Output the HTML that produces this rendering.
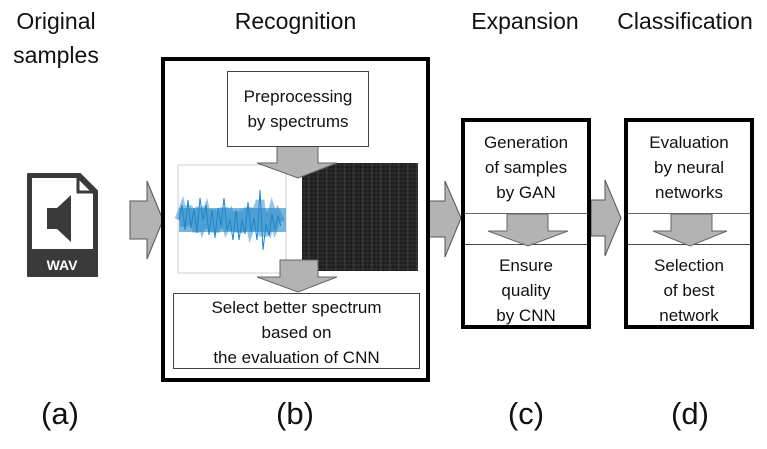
<!DOCTYPE html><html><head><style>
body{margin:0;width:767px;height:449px;background:#fff;position:relative;overflow:hidden;font-family:"Liberation Sans",sans-serif;color:#111}
.t{position:absolute;text-align:center;white-space:nowrap}
.h{font-size:23px;line-height:34px}
.b{font-size:17px;line-height:25px}
.l{font-size:31px}
.box{position:absolute;background:#fff;box-sizing:border-box}
</style></head><body>
<div class="t h" style="left:0;width:112px;top:4px">Original<br>samples</div>
<div class="t h" style="left:163px;width:265px;top:4px">Recognition</div>
<div class="t h" style="left:455px;width:140px;top:4px">Expansion</div>
<div class="t h" style="left:605px;width:160px;top:4px">Classification</div>
<div class="t l" style="left:20px;width:80px;top:396px">(a)</div>
<div class="t l" style="left:255px;width:80px;top:396px">(b)</div>
<div class="t l" style="left:486px;width:80px;top:396px">(c)</div>
<div class="t l" style="left:650px;width:80px;top:396px">(d)</div>

<svg width="767" height="449" style="position:absolute;left:0;top:0">
<path d="M28,174 H80 L97,191 V276 H28 Z" fill="#3a3a3a" stroke="#3a3a3a" stroke-width="2" stroke-linejoin="round"/>
<path d="M32,178 H77 L93,194 V249 H32 Z" fill="#fff"/>
<path d="M78,176 V192 H95" fill="none" stroke="#3a3a3a" stroke-width="3"/>
<path d="M47,208 H57 L71,195 V242 L57,229 H47 Z" fill="#3a3a3a"/>
<text x="62" y="270" font-family="Liberation Sans" font-weight="bold" font-size="14" fill="#fff" text-anchor="middle">WAV</text>
<g fill="#b3b3b3" stroke="#555" stroke-width="1">
<path d="M130,201 H147 V181 L163,220 L147,259 V239 H130 Z"/>
<path d="M429,201 H445 V181 L461,218 L445,257 V237 H429 Z"/>
<path d="M591,200 H605 V180 L621,218 L605,256 V236 H591 Z"/>
</g>
<rect x="163" y="59" width="265" height="321" fill="none" stroke="#000" stroke-width="4"/>
</svg>

<svg width="130" height="125" style="position:absolute;left:167px;top:163px">
<rect x="11" y="2" width="108" height="108" fill="#fff" stroke="#bbb" stroke-width="0.7"/>
<path d="M12,57 l3,-8 3,14 3,-20 3,18 3,-12 3,20 3,-25 3,15 3,-8 3,14 3,-18 3,22 3,-14 3,10 3,-20 3,16 3,-6 3,12 3,-18 3,20 3,-10 3,8 3,-22 3,18 3,-8 3,12 3,-30 3,36 3,-16 3,6 3,-12 3,10 3,-8 3,6" fill="none" stroke="#4aa0d5" stroke-width="9" opacity="0.6"/>
<path d="M12,57 l3,-15 3,25 3,-30 3,28 3,-20 3,25 3,-35 3,22 3,-15 3,30 3,-25 3,28 3,-30 3,18 3,-28 3,32 3,-10 3,20 3,-30 3,30 3,-20 3,14 3,-32 3,30 3,-14 3,22 3,-50 3,60 3,-26 3,12 3,-22 3,16 3,-14 3,10" fill="none" stroke="#1f86c8" stroke-width="1"/>
<rect x="12" y="45" width="107" height="24" fill="#1f86c8" opacity="0.6"/>
</svg>
<div style="position:absolute;left:302px;top:163px;width:116px;height:108px;background:repeating-linear-gradient(90deg,#1b1b1b 0,#2a2a2a 3px,#151515 5px,#3a3a3a 6px,#1e1e1e 9px)"></div>
<div style="position:absolute;left:302px;top:163px;width:116px;height:108px;background:repeating-linear-gradient(0deg,rgba(0,0,0,.2) 0,rgba(255,255,255,.05) 2px,rgba(0,0,0,.15) 4px)"></div>

<svg width="767" height="449" style="position:absolute;left:0;top:0">
<g fill="#b3b3b3" stroke="#666" stroke-width="1">
<path d="M277,146 H318 V163 H337 L298,178 L257,163 H277 Z"/>
<path d="M280,260 H318 V277 H337 L298,292 L257,277 H280 Z"/>
</g>
</svg>

<div class="box" style="left:227px;top:71px;width:142px;height:76px;border:1px solid #444"></div>
<div class="t b" style="left:227px;width:142px;top:84px">Preprocessing<br>by spectrums</div>
<div class="box" style="left:173px;top:293px;width:247px;height:76px;border:1px solid #444"></div>
<div class="t b" style="left:173px;width:247px;top:295px">Select better spectrum<br>based on<br>the evaluation of CNN</div>

<div class="box" style="left:461px;top:118px;width:130px;height:211px;border:4px solid #000"></div>
<div style="position:absolute;left:465px;top:213px;width:122px;height:30px;border-top:1px solid #666;border-bottom:1px solid #444"></div>
<div class="t b" style="left:461px;width:130px;top:130px">Generation<br>of samples<br>by GAN</div>
<div class="t b" style="left:461px;width:130px;top:253px">Ensure<br>quality<br>by CNN</div>
<div class="box" style="left:624px;top:118px;width:130px;height:211px;border:4px solid #000"></div>
<div style="position:absolute;left:628px;top:213px;width:122px;height:30px;border-top:1px solid #666;border-bottom:1px solid #444"></div>
<div class="t b" style="left:624px;width:130px;top:130px">Evaluation<br>by neural<br>networks</div>
<div class="t b" style="left:624px;width:130px;top:253px">Selection<br>of best<br>network</div>

<svg width="767" height="449" style="position:absolute;left:0;top:0">
<g fill="#b3b3b3" stroke="#666" stroke-width="1">
<path d="M507,214 H548 V231 H568 L528,246 L488,231 H507 Z"/>
<path d="M671,214 H712 V231 H727 L690,246 L653,231 H671 Z"/>
</g>
</svg>
</body></html>
